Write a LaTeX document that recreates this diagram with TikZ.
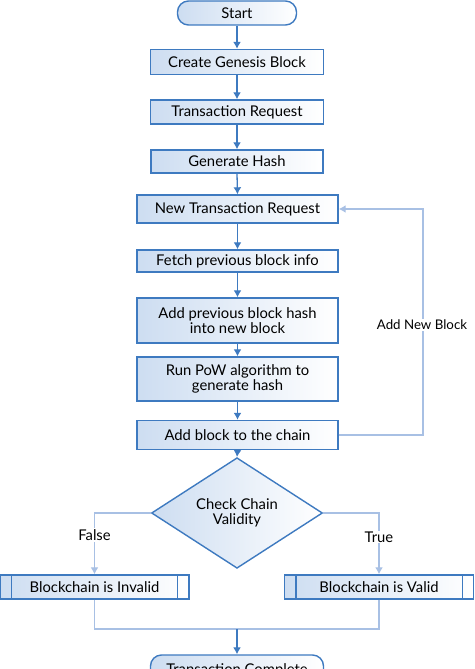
\documentclass[tikz,border=0pt]{standalone}
\usepackage{fontspec}
\setmainfont{Lato}
\usetikzlibrary{shapes.geometric,arrows.meta,calc}
\definecolor{boxline}{RGB}{62,122,192}
\definecolor{boxfill}{RGB}{205,221,241}
\definecolor{lightline}{RGB}{168,192,228}

\begin{document}
\begin{tikzpicture}[x=1pt,y=-1pt,
    font=\fontsize{14.8}{15.5}\selectfont,
    stepbox/.style={draw=boxline,line width=1.4pt,left color=boxfill,right color=white,
      minimum width=201pt,align=center,inner sep=1pt},
    endbox/.style={stepbox,rounded corners=11pt},
    checkbox/.style={draw=boxline,line width=1.4pt,diamond,left color=boxfill,right color=white,
      minimum width=171pt,minimum height=72pt,inner sep=0pt,align=center},
    resultbox/.style={stepbox,minimum width=189pt,minimum height=24pt},
    flow/.style={draw=boxline,line width=1.3pt,-{Latex[length=7pt,width=8pt]}},
    branch/.style={draw=lightline,line width=1.3pt},
    branchto/.style={branch,-{Latex[length=7pt,width=8pt]}},
    tag/.style={fill=white,inner sep=1pt}]
  \useasboundingbox (0,0) rectangle (474,669);

  % main column
  \node[endbox,minimum width=119pt,minimum height=24pt] (start) at (237,13) {Start};
  \node[stepbox,minimum width=173pt,minimum height=25pt] (genesis) at (237,62) {Create Genesis Block};
  \node[stepbox,minimum width=173pt,minimum height=24pt] (txreq) at (237,112) {Transaction Request};
  \node[stepbox,minimum width=172pt,minimum height=23pt] (hash) at (237,161.5) {Generate Hash};
  \node[stepbox,minimum height=28pt] (newtx) at (237.5,209) {New Transaction Request};
  \node[stepbox,minimum height=22pt] (fetch) at (237.5,261) {Fetch previous block info};
  \node[stepbox,minimum height=45pt] (addprev) at (237.5,320.5) {Add previous block hash\\into new block};
  \node[stepbox,minimum height=44pt] (pow) at (237.5,379) {Run PoW algorithm to\\generate hash};
  \node[stepbox,minimum height=29pt] (addblk) at (237.5,435) {Add block to the chain};
  \node[checkbox] (check) at (237,513) {Check Chain\\Validity};

  % results
  \node[resultbox] (invalid) at (94.5,587) {Blockchain is Invalid};
  \node[resultbox] (valid) at (379,587) {Blockchain is Valid};
  \draw[boxline,line width=1.4pt] ($(invalid.north west)+(12,0)$) -- ($(invalid.south west)+(12,0)$);
  \draw[boxline,line width=1.4pt] ($(invalid.north east)+(-12,0)$) -- ($(invalid.south east)+(-12,0)$);
  \draw[boxline,line width=1.4pt] ($(valid.north west)+(12,0)$) -- ($(valid.south west)+(12,0)$);
  \draw[boxline,line width=1.4pt] ($(valid.north east)+(-12,0)$) -- ($(valid.south east)+(-12,0)$);

  \node[endbox,minimum width=173pt,minimum height=30pt] (done) at (237,670) {Transaction Complete};

  % arrows down the column
  \foreach \a/\b in {start/genesis,genesis/txreq,txreq/hash,hash/newtx,newtx/fetch,
                     fetch/addprev,addprev/pow,pow/addblk,addblk/check}
    \draw[flow] (\a.south) -- (\b.north);

  % loop back
  \coordinate (loop) at (423,209);
  \draw[branchto] (addblk.east) -| (loop) -- (newtx.east);
  \node[tag,font=\fontsize{13.3}{14}\selectfont] (addnew) at (422,325) {Add New Block};

  % branches
  \draw[branchto] (check.west) -| (invalid.north);
  \draw[branchto] (check.east) -| (valid.north);
  \node[tag] (false) at (94.5,535) {False};
  \node[tag] (true) at (379,537) {True};

  \coordinate (join) at (237,629);
  \draw[branch] (invalid.south) |- (join);
  \draw[branch] (valid.south) |- (join);
  \draw[flow] (join) -- (done.north);
\end{tikzpicture}
\end{document}
